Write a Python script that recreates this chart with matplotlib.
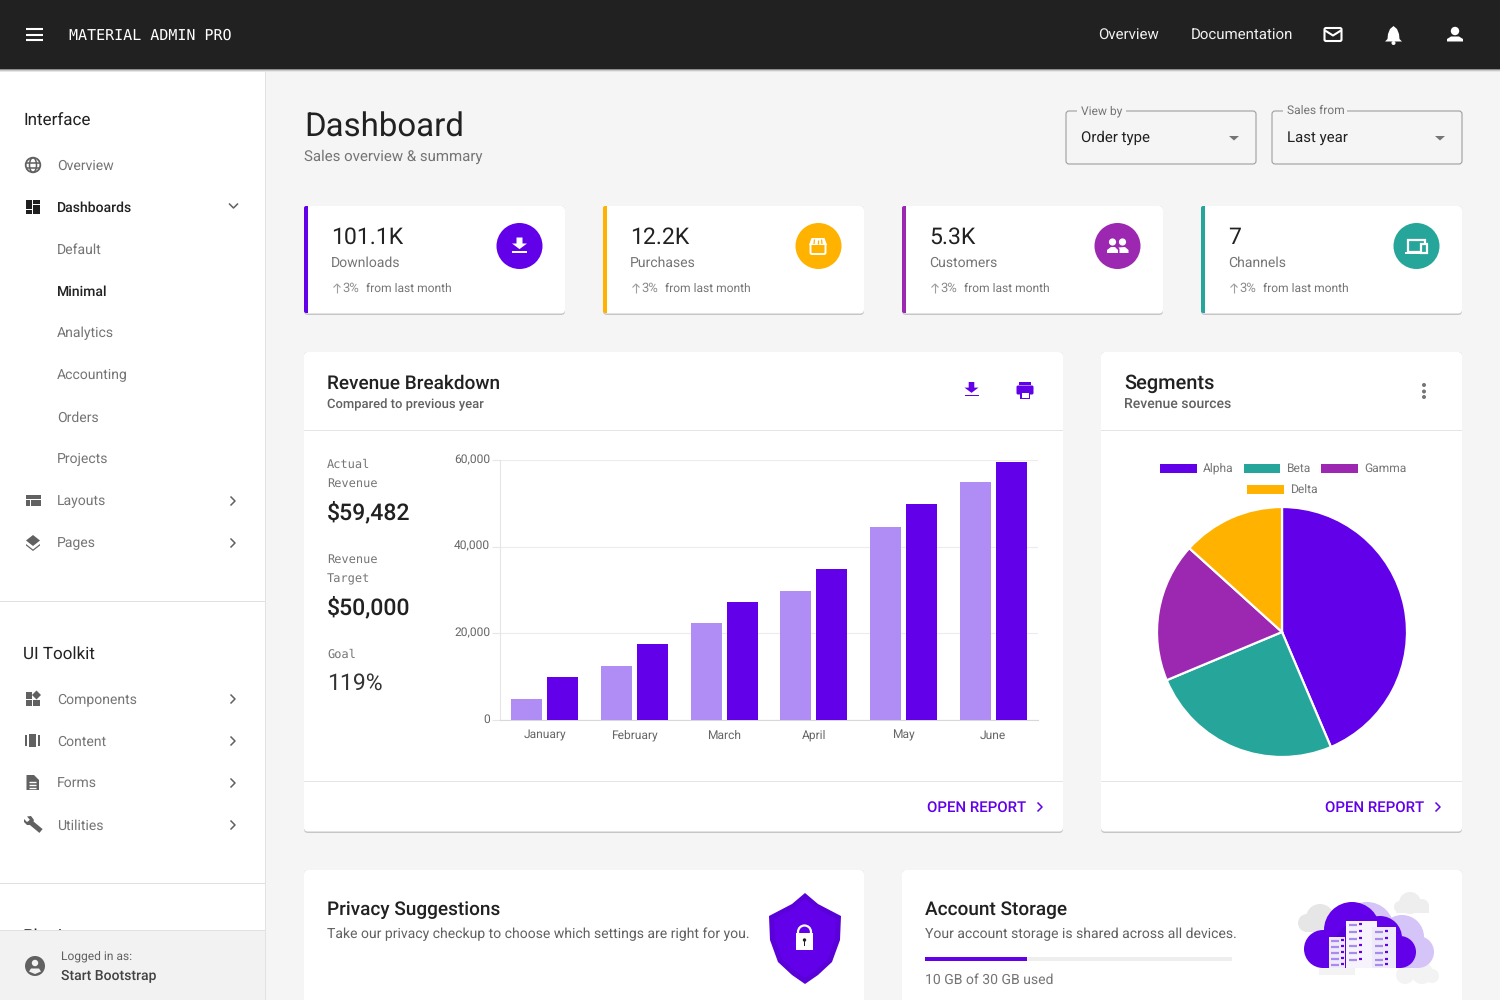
import matplotlib
matplotlib.use('Agg')
import matplotlib.pyplot as plt
from matplotlib.patches import Rectangle, Circle, Ellipse, Polygon, FancyBboxPatch
from matplotlib.transforms import ScaledTranslation

plt.rcParams['font.family'] = ['Roboto', 'DejaVu Sans']
plt.rcParams['text.hinting'] = 'none'
plt.rcParams['text.hinting_factor'] = 1

# chart data
months = ['January', 'February', 'March', 'April', 'May', 'June']
previous_year = [4900, 12400, 22500, 29800, 44500, 54900]
this_year = [9900, 17500, 27300, 34800, 49800, 59482]
y_ticks = [0, 20000, 40000, 60000]

segment_names = ['Alpha', 'Beta', 'Gamma', 'Delta']
segment_values = [43.6, 25.1, 18.0, 13.3]

# page text
nav_interface = ['Overview', 'Dashboards', 'Default', 'Minimal', 'Analytics', 'Accounting',
                 'Orders', 'Projects', 'Layouts', 'Pages']
nav_toolkit = ['Components', 'Content', 'Forms', 'Utilities']
stat_values = ['101.1K', '12.2K', '5.3K', '7']
stat_labels = ['Downloads', 'Purchases', 'Customers', 'Channels']

PURPLE = '#6200ea'
LIGHT = '#b08cf5'
AMBER = '#ffb300'
MAGENTA = '#9c27b0'
TEAL = '#26a69a'
GREY = '#757575'
DARK = '#212121'
ICON = '#616161'
stat_colors = [PURPLE, AMBER, MAGENTA, TEAL]
segment_colors = [PURPLE, TEAL, MAGENTA, AMBER]

fig = plt.figure(figsize=(15, 10), dpi=100, facecolor='#f5f5f5')
ui = fig.add_axes([0, 0, 1, 1])
ui.set_xlim(0, 1500)
ui.set_ylim(1000, 0)
ui.axis('off')


def txt(x, y, s, px=14, color=GREY, weight='normal', ha='left', family=None, z=5):
    fam = family if family else ['Roboto', 'DejaVu Sans']
    # va center sits a little high, push down by a share of the font size
    return ui.text(x, y + px * 0.08, s, fontsize=px * 0.72, color=color, fontweight=weight, ha=ha,
                   va='center', family=fam, zorder=z)


def rect(x0, y0, x1, y1, color, z=3):
    ui.add_patch(Rectangle((x0, y0), x1 - x0, y1 - y0, fc=color, ec='none', zorder=z))


def poly(points, color, z=6):
    ui.add_patch(Polygon(points, closed=True, fc=color, ec='none', zorder=z))


def line(xs, ys, color, lw=1.5, z=6):
    ui.plot(xs, ys, color=color, lw=lw, zorder=z, solid_capstyle='butt')


def circ(x, y, r, color, z=6):
    ui.add_patch(Circle((x, y), r, fc=color, ec='none', zorder=z))


def card(x0, y0, x1, y1, z=2):
    ui.add_patch(FancyBboxPatch((x0 + 3, y0 + 3), x1 - x0 - 6, y1 - y0 - 5, boxstyle='round,pad=3,rounding_size=4',
                                fc='#c6c6c6', ec='none', zorder=z))
    ui.add_patch(FancyBboxPatch((x0 + 3, y0 + 3), x1 - x0 - 6, y1 - y0 - 6.5, boxstyle='round,pad=3,rounding_size=4',
                                fc='white', ec='none', zorder=z))


def chevron(x, y, color=ICON):
    line([x - 2.5, x + 2, x - 2.5], [y - 4.5, y, y + 4.5], color, 1.1)


def chevron_down(x, y, color=ICON):
    line([x - 4.5, x, x + 4.5], [y - 2.5, y + 2, y - 2.5], color, 1.1)


def download(cx, cy, s, color):
    # arrow and bar, s is half the icon size
    poly([(cx - s * 0.4, cy - s), (cx + s * 0.4, cy - s), (cx + s * 0.4, cy - s * 0.2), (cx + s, cy - s * 0.2),
          (cx, cy + s * 0.55), (cx - s, cy - s * 0.2), (cx - s * 0.4, cy - s * 0.2)], color)
    rect(cx - s, cy + s * 0.8, cx + s, cy + s * 1.0, color, 6)


# top bar
rect(0, 69, 1500, 70, '#8c8c8c', 8)
rect(0, 70, 1500, 71, '#c8c8c8', 8)
rect(0, 71, 1500, 72, '#e6e6e6', 8)
rect(0, 0, 1500, 69, DARK, 9)
for y in (29, 34.5, 40):
    line([26, 43], [y, y], 'white', 1.5, 10)
txt(69, 34.5, 'MATERIAL ADMIN PRO', 15.3, 'white', family='DejaVu Sans Mono', z=10)
txt(1098, 33.5, 'Overview', 14.8, '#f0f0f0', z=10)
txt(1191, 33.5, 'Documentation', 14.8, '#f0f0f0', z=10)
ui.add_patch(FancyBboxPatch((1325, 28.5), 16, 12, boxstyle='round,pad=0.5,rounding_size=1.5', fc='none', ec='white',
                            lw=1.5, zorder=10))
line([1325, 1333, 1341], [30.5, 35.5, 30.5], 'white', 1.5, 10)
poly([(1393.5, 26), (1397, 29), (1399, 34), (1399.5, 39), (1402, 41.5), (1385, 41.5), (1387.5, 39), (1388, 34),
      (1390, 29)], 'white', 10)
ui.add_patch(Circle((1393.5, 43), 2, fc='white', ec='none', zorder=10))
ui.add_patch(Circle((1455, 31), 4.2, fc='white', ec='none', zorder=10))
poly([(1447, 41.5), (1447, 39), (1451, 36.5), (1459, 36.5), (1463, 39), (1463, 41.5)], 'white', 10)

# sidebar
rect(0, 71, 265, 1000, 'white', 1)
rect(265, 69, 266, 1000, '#e2e2e2', 1)
txt(23, 120, 'Interface', 17.4, DARK)
nav_y = [165, 207, 249, 291, 333, 375, 417, 459, 501, 543]
for name, y in zip(nav_interface, nav_y):
    bold = name in ('Dashboards', 'Minimal')
    txt(57, y - 0.5, name, 13.6, DARK if bold else GREY, weight=500 if bold else 'normal')
chevron_down(233.5, 206)
chevron(233, 501)
chevron(233, 543)
rect(0, 601, 265, 602, '#e0e0e0', 2)
txt(23, 653, 'UI Toolkit', 17.2, DARK)
tool_y = [699, 741, 783, 825]
for name, y in zip(nav_toolkit, tool_y):
    txt(57, y - 0.5, name, 13.5, GREY)
    chevron(233, y)
rect(0, 883, 265, 884, '#e0e0e0', 2)
txt(23, 936, 'Plugins', 18, DARK, z=2)

# sidebar icons
ui.add_patch(Circle((33, 165), 7.3, fc='none', ec=ICON, lw=1.3, zorder=6))
ui.add_patch(Ellipse((33, 165), 7, 14.6, fc='none', ec=ICON, lw=1.1, zorder=6))
line([26, 40], [162.5, 162.5], ICON, 1.1)
line([26, 40], [167.5, 167.5], ICON, 1.1)
for r in [(25.5, 200, 32, 209), (25.5, 210, 32, 214), (33, 200, 40, 204), (33, 205, 40, 214)]:
    rect(*r, '#1f1f1f', 6)
rect(25.5, 495, 40.5, 499, ICON, 6)
rect(25.5, 500, 30, 506, ICON, 6)
rect(31, 500, 40.5, 506, ICON, 6)
poly([(33, 535), (40, 540.5), (33, 546), (26, 540.5)], ICON)
poly([(26, 544), (33, 549.5), (40, 544), (40, 545.5), (33, 551), (26, 545.5)], ICON)
rect(25.5, 692, 32, 698.5, ICON, 6)
rect(25.5, 699.5, 32, 706, ICON, 6)
rect(33, 699.5, 40, 706, ICON, 6)
poly([(36.5, 690.5), (41, 695), (36.5, 699.5), (32, 695)], ICON)
rect(25, 735, 26.5, 746, ICON, 6)
rect(28.5, 734, 36, 747, ICON, 6)
rect(38, 735, 39.5, 746, ICON, 6)
poly([(26.5, 775), (34, 775), (39, 780), (39, 790), (26.5, 790)], ICON)
for y in (782, 785, 787.5):
    line([29, 36], [y, y], 'white', 1, 7)
line([29, 41], [821, 831], ICON, 3.6)
poly([(24, 819), (27, 822), (30, 820), (27, 816.5), (31, 816), (34, 820), (32, 825), (27, 825), (24, 822)], ICON)

# sidebar footer
rect(0, 931, 265, 1000, '#f2f2f2', 3)
rect(0, 930, 265, 931, '#e0e0e0', 3)
txt(61, 955, 'Logged in as:', 12, ICON)
txt(61, 974.5, 'Start Bootstrap', 14, '#424242', weight=500)
circ(35, 966, 10, ICON)
circ(35, 963, 3.2, '#f2f2f2', 7)
poly([(29, 971.5), (31, 968.5), (39, 968.5), (41, 971.5), (35, 974)], '#f2f2f2', 7)

# page header
txt(304, 125.5, 'Dashboard', 32.8, DARK)
txt(304, 155.5, 'Sales overview & summary', 14.8, GREY)


def select_box(x0, x1, label, label_w, value):
    ui.add_patch(FancyBboxPatch((x0 + 2, 113), x1 - x0 - 4, 49, boxstyle='round,pad=2,rounding_size=3', fc='none',
                                ec='#9e9e9e', lw=0.8, zorder=3))
    rect(x0 + 11, 108, x0 + 15 + label_w + 4, 114, '#f5f5f5', 4)
    txt(x0 + 15, 110, label, 11.6, GREY)
    txt(x0 + 15, 136.5, value, 15.4, DARK)
    poly([(x1 - 27, 136), (x1 - 17, 136), (x1 - 22, 140.5)], GREY)


select_box(1066, 1256, 'View by', 41, 'Order type')
select_box(1272, 1462, 'Sales from', 56, 'Last year')

# stat cards
stat_x = [304, 603, 902, 1201]
for x, val, lab, col in zip(stat_x, stat_values, stat_labels, stat_colors):
    card(x, 206, x + 261, 314)
    ui.add_patch(FancyBboxPatch((x + 2, 208), 2, 103, boxstyle='round,pad=2,rounding_size=2', fc=col, ec='none',
                                zorder=3))
    rect(x + 4, 206, x + 8, 312.5, 'white', 3)
    txt(x + 27, 235.5, val, 23.2, DARK)
    txt(x + 27, 261.5, lab, 14, GREY)
    # small up arrow
    line([x + 33, x + 33], [284, 292.5], '#9e9e9e', 0.8)
    line([x + 29.5, x + 33, x + 36.5], [287.5, 284, 287.5], '#9e9e9e', 0.8)
    txt(x + 38, 287.5, '3%', 12.5, '#8a8a8a')
    txt(x + 62, 287.5, 'from last month', 12, GREY)
    circ(x + 215.5, 246, 23, col, 5)

download(519.5, 245, 7.5, 'white')
# store icon
ui.add_patch(FancyBboxPatch((811, 244), 14, 9.5, boxstyle='round,pad=0.5,rounding_size=1.5', fc='none', ec='white',
                            lw=1.4, zorder=7))
poly([(811.5, 238), (824.5, 238), (827, 245), (809, 245)], 'white', 7)
for x0, x1 in ((814.5, 814), (818, 818), (821.5, 822)):
    line([x0, x1], [239.5, 244], AMBER, 0.9, 8)
# people icon
circ(1112.5, 242, 3.6, 'white')
circ(1122.5, 242, 3.6, 'white')
poly([(1107, 253), (1107, 250), (1111, 247), (1115, 247), (1118, 250), (1118, 253)], 'white')
poly([(1119.5, 253), (1119.5, 249), (1118.5, 247.5), (1125, 247), (1128.5, 250), (1128.5, 253)], 'white')
# devices icon
ui.add_patch(Rectangle((1408, 240), 17, 12, fc='none', ec='white', lw=1.6, zorder=6))
rect(1405, 251.5, 1426, 253.5, 'white', 7)
rect(1419.5, 242.5, 1428, 254, TEAL, 7)
ui.add_patch(Rectangle((1420.5, 243.5), 6.5, 9.5, fc='none', ec='white', lw=1.6, zorder=8))

# revenue card
card(304, 352, 1063, 832)
rect(304, 430, 1063, 431, '#e4e4e4', 3)
rect(304, 781, 1063, 782, '#e4e4e4', 3)
txt(327, 382, 'Revenue Breakdown', 19.3, DARK, weight=500)
txt(327, 404, 'Compared to previous year', 13.4, ICON, weight=500)
download(971.5, 389, 7, PURPLE)
rect(1019, 382, 1031, 385, PURPLE, 6)
ui.add_patch(FancyBboxPatch((1017, 386), 16, 8, boxstyle='round,pad=0.5,rounding_size=1.5', fc=PURPLE, ec='none',
                            zorder=6))
rect(1020, 391, 1030, 399, PURPLE, 6)
rect(1021.5, 392.5, 1028.5, 397.5, 'white', 7)
txt(927, 807, 'OPEN REPORT', 15, PURPLE, weight=500)
chevron(1040, 807, PURPLE)

mono = ['DejaVu Sans Mono']
txt(327, 464, 'Actual', 12, GREY, family=mono)
txt(327, 483, 'Revenue', 12, GREY, family=mono)
txt(327, 510.5, '$59,482', 23.5, DARK, weight=500)
txt(327, 559, 'Revenue', 12, GREY, family=mono)
txt(327, 578, 'Target', 12, GREY, family=mono)
txt(327, 605.5, '$50,000', 23.5, DARK, weight=500)
txt(327, 654, 'Goal', 12, GREY, family=mono)
txt(327, 681.5, '119%', 23.4, '#333333')

# bar chart
ax = fig.add_axes([500 / 1500, 1 - 720 / 1000, 538 / 1500, 260 / 1000], zorder=5)
ax.patch.set_alpha(0)
pos = list(range(len(months)))
ax.bar([p - 0.2 for p in pos], previous_year, width=0.345, color=LIGHT, zorder=3)
ax.bar([p + 0.2 for p in pos], this_year, width=0.345, color=PURPLE, zorder=3)
ax.set_xlim(-0.5, 5.5)
ax.set_ylim(0, 60000)
ax.set_xticks(pos, months)
ax.set_yticks(y_ticks, [f'{v:,}' for v in y_ticks])
ax.tick_params(axis='x', length=0, pad=13.5, labelsize=8.7, labelcolor='#666666')
ax.tick_params(axis='y', length=6, width=0.8, color='#e6e6e6', pad=1, labelsize=8.7, labelcolor='#666666')
ax.grid(axis='y', color='#ececec', lw=0.8, zorder=0)
for lab in ax.get_xticklabels():
    lab.set_verticalalignment('baseline')
for lab in ax.get_yticklabels():
    lab.set_transform(lab.get_transform() + ScaledTranslation(0, 0.015, fig.dpi_scale_trans))
for s in ('top', 'right'):
    ax.spines[s].set_visible(False)
ax.spines['left'].set_color('#e6e6e6')
ax.spines['bottom'].set_color('#d8d8d8')

# segments card
card(1101, 352, 1462, 832)
rect(1101, 430, 1462, 431, '#e4e4e4', 3)
rect(1101, 781, 1462, 782, '#e4e4e4', 3)
txt(1124, 382, 'Segments', 19.7, DARK, weight=500)
txt(1124, 404, 'Revenue sources', 13.5, ICON, weight=500)
for y in (385, 391.5, 397):
    circ(1424, y, 2, '#757575')
txt(1325, 807, 'OPEN REPORT', 15, PURPLE, weight=500)
chevron(1438, 807, PURPLE)

# legend keeps the two centred rows of the original
legend_boxes = [(1160, 463.5), (1243.5, 463.5), (1321, 463.5), (1247, 484.5)]
for (bx, by), name, col in zip(legend_boxes, segment_names, segment_colors):
    rect(bx, by, bx + 36.5, by + 9.5, col, 5)
    txt(bx + 43, by + 4, name, 12, GREY)

pie_ax = fig.add_axes([1157 / 1500, 1 - 757 / 1000, 250 / 1500, 250 / 1000], zorder=5)
pie_ax.pie(segment_values, colors=segment_colors, startangle=90, counterclock=False, radius=1,
           wedgeprops={'edgecolor': 'white', 'linewidth': 1.6})
pie_ax.set_xlim(-1, 1)
pie_ax.set_ylim(-1, 1)

# privacy card
card(304, 870, 864, 1040)
txt(327, 908, 'Privacy Suggestions', 19.5, DARK, weight=500)
txt(327, 933, 'Take our privacy checkup to choose which settings are right for you.', 13.8, ICON)
poly([(805, 893), (818, 904), (841, 916), (840, 940), (832, 962), (818, 975), (805, 984), (792, 975), (778, 962),
      (770, 940), (769, 916), (792, 904)], '#5a00d8')
poly([(805, 899), (816, 908), (836, 919), (835, 939), (828, 959), (815, 971), (805, 978), (795, 971), (782, 959),
      (775, 939), (774, 919), (794, 908)], PURPLE, 7)
ui.add_patch(Circle((804.5, 932), 6.5, fc='none', ec='white', lw=1.6, zorder=8))
rect(796, 933, 813, 950, 'white', 8)
circ(804.5, 940, 1.7, '#222222', 9)
rect(803.8, 940, 805.2, 945.5, '#222222', 9)

# storage card
card(902, 870, 1462, 1040)
txt(925, 908, 'Account Storage', 19.5, DARK, weight=500)
txt(925, 933, 'Your account storage is shared across all devices.', 13.8, ICON)
rect(925, 957, 1232, 961, '#eeeeee', 4)
rect(925, 957, 1027, 961, PURPLE, 5)
txt(925, 979, '10 GB of 30 GB used', 13.8, GREY)

# cloud illustration
for x, y, r in [(1320, 918, 14), (1307, 923, 9)]:
    circ(x, y, r, '#e6e6e6', 4)
rect(1305, 922, 1330, 932, '#e6e6e6', 4)
for x, y, r in [(1410, 903, 11), (1422, 906, 7), (1400, 907, 6)]:
    circ(x, y, r, '#eeeeee', 4)
rect(1396, 906, 1429, 913, '#eeeeee', 4)
rect(1319, 966, 1355, 975, '#f3f3f3', 4)
for x, y, r in [(1405, 975, 9), (1422, 973, 11), (1432, 976, 7)]:
    circ(x, y, r, '#f3f3f3', 4)
for x, y, r in [(1367, 929, 27), (1402, 937, 22), (1418, 952, 16)]:
    circ(x, y, r, '#d5c4f7', 5)
rect(1367, 945, 1418, 968, '#d5c4f7', 5)
for x, y, r in [(1323, 949, 19), (1352, 930, 28), (1380, 938, 22), (1400, 952, 16)]:
    circ(x, y, r, PURPLE, 6)
rect(1323, 950, 1400, 968, PURPLE, 6)
circ(1358, 945, 23, '#5800d8', 6)
rect(1329, 937, 1345, 968, '#efeaf9', 7)
rect(1346, 921, 1377, 968, '#f6f3fc', 7)
rect(1372, 927, 1396, 968, '#efeaf9', 7)
for x0, rows in [(1331, (941, 947, 953, 959, 965)), (1349, (925, 932, 939, 946, 953, 960)),
                 (1375, (932, 939, 946, 953, 960, 965))]:
    for y in rows:
        line([x0, x0 + 8], [y, y], '#a98bef', 1.6, 8)
        line([x0 + 10, x0 + 13], [y - 1, y - 1], PURPLE, 1.6, 8)

fig.savefig('out.png', dpi=100, facecolor=fig.get_facecolor())
